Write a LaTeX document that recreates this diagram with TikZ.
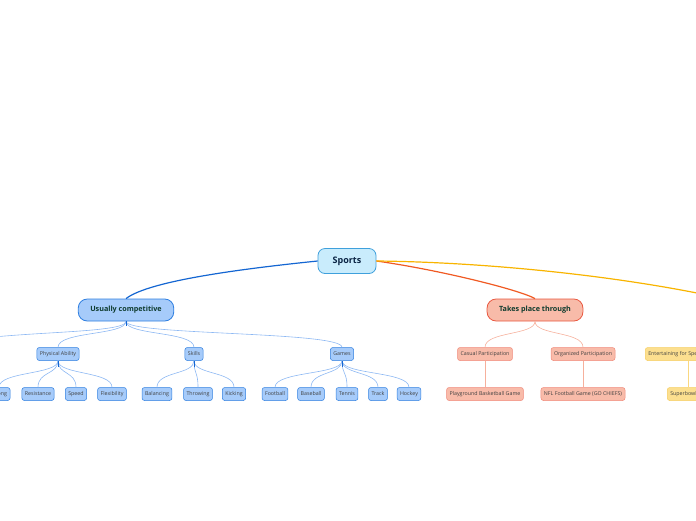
\documentclass[tikz,border=0pt]{standalone}
\usepackage{fontspec}
\setmainfont{Open Sans}
\usetikzlibrary{calc}
\begin{document}
\begin{tikzpicture}[x=1pt,y=-1pt,
 root/.style={draw=rootb,fill=rootf,rounded corners=7pt,line width=0.8pt,minimum width=58pt,minimum height=25pt,font=\fontsize{9}{10}\selectfont\bfseries,text=rootT},
 main/.style={rounded corners=9pt,line width=0.8pt,minimum height=22pt,inner xsep=12pt,font=\fontsize{7.2}{9}\selectfont\bfseries,text=mainT},
 sub/.style={rounded corners=2.5pt,line width=0.5pt,minimum height=13pt,inner xsep=3pt,font=\fontsize{5.3}{6}\selectfont,text=black!75},
 bm/.style={main,draw=blueB,fill=blueF}, bs/.style={sub,draw=blueB,fill=blueF},
 om/.style={main,draw=oraB,fill=oraF}, os/.style={sub,draw=oraB!70,fill=oraF},
 ys/.style={sub,draw=yelB!70,fill=yelF},
 be/.style={blueE,line width=1.2pt}, bl/.style={blueL,line width=0.6pt},
 oe/.style={oraE,line width=1.2pt}, ol/.style={oraL,line width=0.6pt},
 ye/.style={yelE,line width=1.2pt}, yl/.style={yelL,line width=0.6pt}]
\definecolor{rootb}{HTML}{3FA0DC}\definecolor{rootf}{HTML}{C9ECFC}\definecolor{rootT}{HTML}{0B2545}
\definecolor{mainT}{HTML}{0E3B2E}
\definecolor{blueB}{HTML}{2F7FE0}\definecolor{blueF}{HTML}{A6CBFA}\definecolor{blueE}{HTML}{1466D2}\definecolor{blueL}{HTML}{8DB8F3}
\definecolor{oraB}{HTML}{E9573F}\definecolor{oraF}{HTML}{F8BBA9}\definecolor{oraE}{HTML}{F05A23}\definecolor{oraL}{HTML}{F6B09C}
\definecolor{yelF}{HTML}{FCDF8F}\definecolor{yelB}{HTML}{F2B91C}\definecolor{yelE}{HTML}{F8B400}\definecolor{yelL}{HTML}{FAD880}
\useasboundingbox (0,0) rectangle (696,520);
\clip (0,0) rectangle (696,520);
\node[root] (s) at (347,261) {Sports};
\node[bm] (uc) at (126,310) {Usually competitive};
\node[om] (tp) at (535,310) {Takes place through};
\coordinate (ym) at (730,300);
\draw[be] (s.west) .. controls (250,268) and (150,280) .. (uc.north);
\draw[oe] (s.east) .. controls (440,270) and (520,290) .. (tp.north);
\draw[ye] (s.east) .. controls (480,262) and (620,275) .. (ym);
% blue level 2
\node[bs] (pa) at (58,354) {Physical Ability};
\node[bs] (sk) at (194,354) {Skills};
\node[bs] (ga) at (342,354) {Games};
\coordinate (lo) at (-60,347);
\foreach \c in {pa,sk,ga}{\draw[bl] (uc.south) .. controls ($(uc.south)+(0,14)$) and ($(\c.north)+(0,-16)$) .. (\c.north);}
\draw[bl] (uc.south) .. controls ($(uc.south)+(0,14)$) and (-20,330) .. (lo);
\draw[blueE,line width=1pt] (uc.south)--++(0,5);
% blue leaves
\node[bs] (st) at (-1,394) {Strong};
\node[bs] (re) at (38,394) {Resistance};
\node[bs] (sp) at (76,394) {Speed};
\node[bs] (fl) at (112,394) {Flexibility};
\node[bs] (ba) at (157,394) {Balancing};
\node[bs] (th) at (198,394) {Throwing};
\node[bs] (ki) at (234,394) {Kicking};
\node[bs] (fo) at (275,394) {Football};
\node[bs] (bb) at (311,394) {Baseball};
\node[bs] (te) at (347,394) {Tennis};
\node[bs] (tr) at (378,394) {Track};
\node[bs] (ho) at (409,394) {Hockey};
\foreach \p/\l in {pa/{st,re,sp,fl},sk/{ba,th,ki},ga/{fo,bb,te,tr,ho}}{
 \foreach \c in \l {\draw[bl] (\p.south) .. controls ($(\p.south)+(0,14)$) and ($(\c.north)+(0,-16)$) .. (\c.north);}
 \draw[blueE,line width=1pt] (\p.south)--++(0,6);}
% orange
\node[os] (cp) at (485,354) {Casual Participation};
\node[os] (op) at (583,354) {Organized Participation};
\node[os] (pb) at (485,394) {Playground Basketball Game};
\node[os] (nf) at (583,394) {NFL Football Game (GO CHIEFS)};
\foreach \c in {cp,op}{\draw[ol] (tp.south) .. controls ($(tp.south)+(0,14)$) and ($(\c.north)+(0,-16)$) .. (\c.north);}
\draw[ol] (cp.south)--(pb.north); \draw[ol] (op.south)--(nf.north);
% yellow
\node[ys,anchor=west] (en) at (645,354) {Entertaining for Spectators};
\node[ys,anchor=west] (sb) at (667,394) {Superbowl};
\draw[yl] (ym) .. controls (730,335) and (700,325) .. ($(en.north west)+(60,0)$);
\draw[yl] ($(en.south west)+(43,0)$)--($(sb.north west)+(21,0)$);
\end{tikzpicture}
\end{document}
